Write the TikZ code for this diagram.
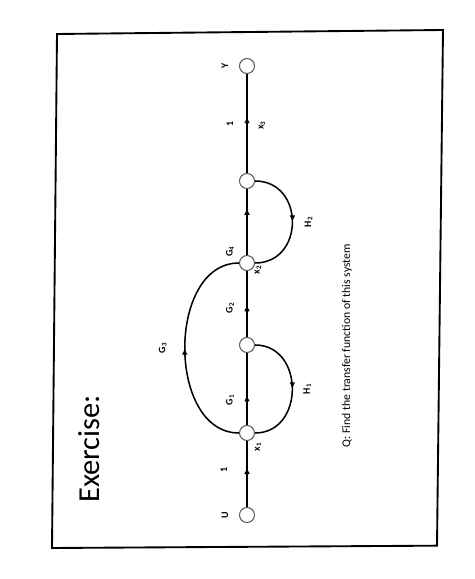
\documentclass[tikz,border=0pt]{standalone}
\usepackage{fontspec}
\setmainfont{Carlito}
\usetikzlibrary{positioning,decorations.markings,arrows.meta}

\begin{document}
\begin{tikzpicture}[node distance=2.46cm,
        junct/.style = {circle, draw=black!65, fill=white, line width=0.9pt, minimum size=4.5mm, inner sep=0pt},
        flow/.style = {line width=1.3pt},
        arr/.style = {postaction={decorate, decoration={markings, mark=at position #1 with {\arrow{Latex[length=2mm,width=1.7mm]}}}}},
        arr/.default = 0.5,
        lbl/.style = {rotate=90, font=\fontsize{8.5}{10}\selectfont\bfseries, inner sep=1pt}]

        \useasboundingbox (0,0) rectangle (14.22,17.37);

        % Cadre
        \draw[line width=1.6pt] (1.71,16.35) -- (13.29,16.47) -- (13.11,1.0) -- (1.56,0.93) -- cycle;

        % Textes
        \node[rotate=90, font=\fontsize{26}{30}\selectfont] (title) at (2.67,3.9) {Exercise:};
        \node[rotate=90, font=\fontsize{10}{12}\selectfont] (question) at (10.41,7.0) {Q: Find the transfer function of this system};

        % Noeuds
        \node[junct] (u) at (7.41,1.92) {};
        \node[junct] (x1) [above of=u] {};
        \node[junct] (n1) [above of=x1, node distance=2.64cm] {};
        \node[junct] (x2) [above of=n1] {};
        \node[junct] (n3) [above of=x2] {};
        \node[junct] (y) [above of=n3, node distance=3.45cm] {};

        \node[xshift=-6.6mm, lbl] (lu) at (u) {U};
        \node[xshift=-6.6mm, lbl] (ly) at (y) {Y};
        \node[xshift=3.3mm, yshift=-4.2mm, lbl] (lx1) at (x1) {x\textsubscript{1}};
        \node[xshift=3.3mm, yshift=-2.1mm, lbl] (lx2) at (x2) {x\textsubscript{2}};

        % Branche directe
        \draw[flow, arr=.6] (u) -- node[pos=.56, xshift=-6.9mm, lbl] (l1) {1} (x1);
        \draw[flow, arr=.42] (x1) -- node[pos=.35, xshift=-5.1mm, lbl] (lg1) {G\textsubscript{1}} (n1);
        \draw[flow, arr=.49] (n1) -- node[pos=.44, xshift=-5.1mm, lbl] (lg2) {G\textsubscript{2}} (x2);
        \draw[flow, arr=.71] (x2) -- node[pos=.05, xshift=-5.1mm, lbl] (lg4) {G\textsubscript{4}} (n3);
        \draw[flow, arr=.57] (n3) -- node[pos=.5, xshift=-5.1mm, lbl] (l2) {1}
            node[pos=.48, xshift=4.5mm, lbl] (lx3) {x\textsubscript{3}} (y);

        % Boucles H1, H2 et G3
        \draw[flow, arr] (n1) to [out=0, in=0, looseness=1.45] node[xshift=4.5mm, lbl] (lh1) {H\textsubscript{1}} (x1);
        \draw[flow, arr] (n3) to [out=0, in=0, looseness=1.56] node[xshift=4.8mm, lbl] (lh2) {H\textsubscript{2}} (x2);
        \draw[flow, arr] (x1) to [out=180, in=180, looseness=1.09] node[xshift=-6.6mm, lbl] (lg3) {G\textsubscript{3}} (x2);
    \end{tikzpicture}
\end{document}
